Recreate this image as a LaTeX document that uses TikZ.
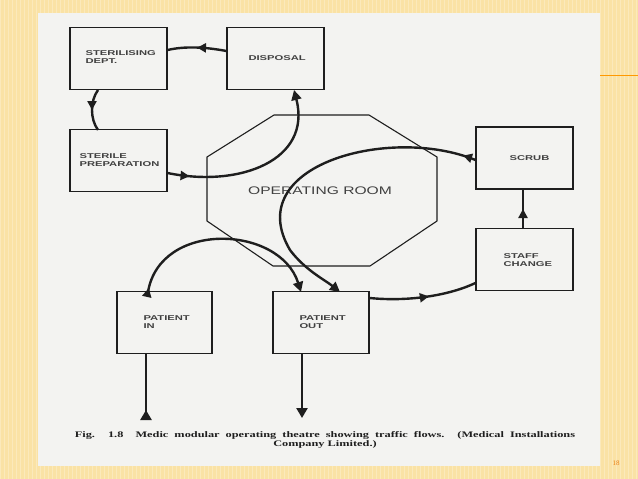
\documentclass[tikz,border=0pt]{standalone}
\usepackage{fontspec}
\setmainfont{Liberation Serif}
\newfontfamily\boxfont{Liberation Sans}
\usetikzlibrary{arrows.meta,decorations.markings}
\definecolor{bgor}{RGB}{250,226,165}
\definecolor{panel}{RGB}{243,243,241}
\definecolor{ink}{RGB}{30,30,30}
\newcommand{\wide}[2]{\scalebox{#1}[1]{#2}}
\begin{document}
\begin{tikzpicture}[x=1pt,y=-1pt,
  box/.style={draw=ink,line width=1.1pt,minimum width=97pt,minimum height=62pt,inner sep=0pt},
  lbl/.style={font=\boxfont\bfseries\fontsize{7}{7.5}\selectfont,text=ink!85,align=left},
  flow/.style={draw=ink,line width=2.4pt},
  mid/.style={postaction={decorate},decoration={markings,mark=at position #1 with {\arrow[ink]{Triangle[length=9pt,width=9pt]}}}}]
\useasboundingbox (0,0) rectangle (638,479);
\fill[bgor] (0,0) rectangle (638,479);
\foreach \i in {0,4,...,636} {\draw[white,opacity=0.25,line width=1pt] (\i,0) -- (\i,479);}
\fill[panel] (38,13) rectangle (600,466);
\draw[orange!80!yellow,line width=0.8pt] (600,75) -- (638,75);
\node[text=orange!70!brown,font=\fontsize{7}{7}\selectfont] (pg) at (616,463) {18};
% boxes
\node[box] (ster) at (118.5,58.5) {};
\node[box] (disp) at (275.5,58.5) {};
\node[box] (prep) at (118.5,160.5) {};
\node[box] (scrub) at (524.5,158) {};
\node[box] (staff) at (524.5,259.5) {};
\node[box,minimum width=95pt] (pin) at (164.5,322.5) {};
\node[box,minimum width=96pt] (pout) at (321,322.5) {};
\node[lbl,anchor=west] (t1) at (82,57) {\wide{1.6}{STERILISING}\\\wide{1.6}{DEPT.}};
\node[lbl,anchor=west] (t2) at (245,58) {\wide{1.6}{DISPOSAL}};
\node[lbl,anchor=west] (t3) at (76,160) {\wide{1.6}{STERILE}\\\wide{1.6}{PREPARATION}};
\node[lbl,anchor=west] (t4) at (506,158) {\wide{1.6}{SCRUB}};
\node[lbl,anchor=west] (t5) at (500,260) {\wide{1.6}{STAFF}\\\wide{1.6}{CHANGE}};
\node[lbl,anchor=west] (t6) at (140,322) {\wide{1.6}{PATIENT}\\\wide{1.6}{IN}};
\node[lbl,anchor=west] (t7) at (296,322) {\wide{1.6}{PATIENT}\\\wide{1.6}{OUT}};
% octagon
\draw[ink,line width=1.1pt] (274,115) -- (369,115) -- (437,157) -- (437,221) -- (370,266) -- (273,266) -- (207,221) -- (207,157) -- cycle;
\node[font=\boxfont\fontsize{11}{11}\selectfont,text=ink!85] (or) at (320,191) {\wide{1.42}{OPERATING ROOM}};
% flows
\draw[flow,mid=0.5] (disp.west|-0,51) .. controls (205,47) and (185,46) .. (ster.east|-0,50);
\draw[flow,mid=0.5] (98,90) .. controls (90,101) and (90,119) .. (98,130);
\draw[flow,mid=0.12,-{Triangle[length=10pt,width=10pt]}] (prep.east|-0,173) .. controls (240,188) and (312,160) .. (294,90);
\draw[flow,mid=0.04,-{Triangle[length=10pt,width=10pt]}] (scrub.west|-0,160) .. controls (390,125) and (240,165) .. (290,250) .. controls (305,270) and (325,280) .. (340,292);
\draw[flow,mid=0.55] (pout.east|-0,298) .. controls (410,302) and (450,295) .. (staff.west|-0,283);
\draw[flow,mid=0.5] (523,229) -- (523,189);
\draw[flow,mid=0.02,-{Triangle[length=10pt,width=10pt]}] (148,292) .. controls (160,220) and (280,225) .. (301,292);
\draw[flow,{Triangle[length=10pt,width=11pt,reversed]}-] (146,420) -- (pin.south-|146,0);
\draw[flow,-{Triangle[length=10pt,width=11pt]}] (pout.south-|302,0) -- (302,418);
\node[font=\bfseries\fontsize{8.5}{9}\selectfont,text=ink,align=center] (cap) at (325,440) {\wide{1.45}{\makebox[345pt][s]{Fig. 1.8 \ Medic modular operating theatre showing traffic flows. (Medical Installations}}\\\wide{1.45}{Company Limited.)}};
\end{tikzpicture}
\end{document}
